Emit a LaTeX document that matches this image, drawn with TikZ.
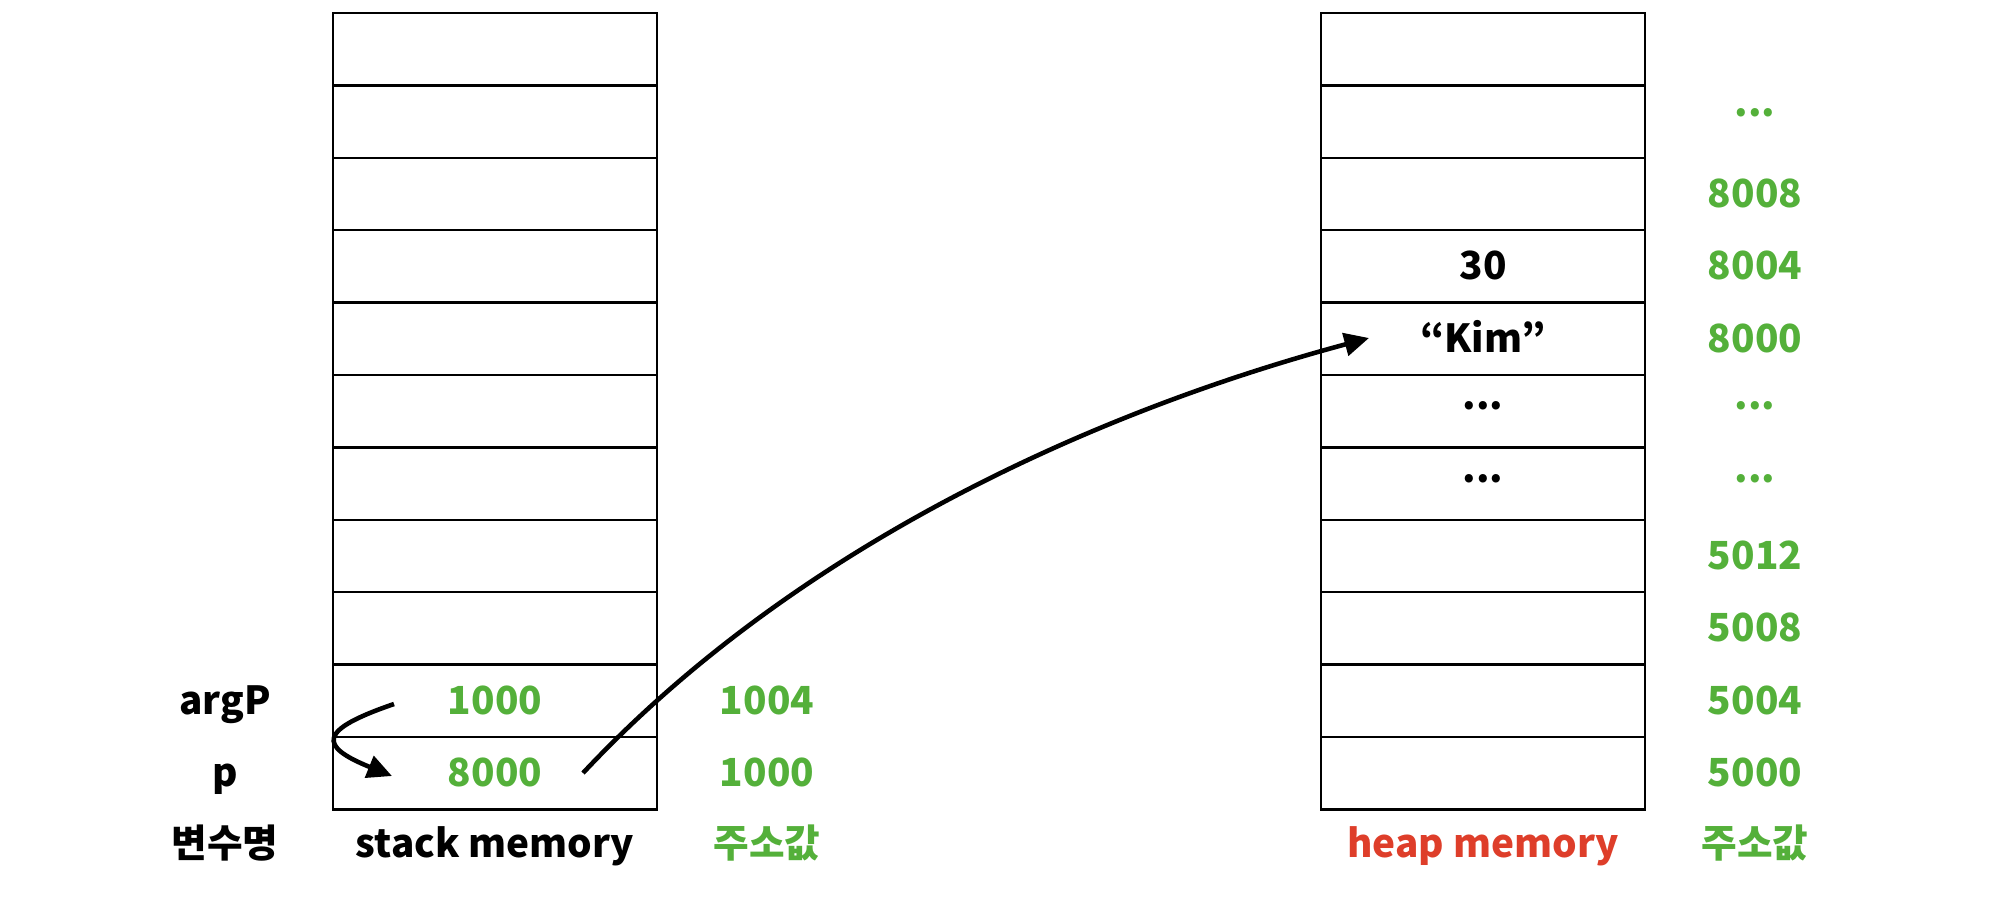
\documentclass[tikz,border=0pt]{standalone}
\usepackage{fontspec}
\setmainfont{Noto Sans CJK KR}
\usetikzlibrary{arrows.meta}
\definecolor{addrgreen}{RGB}{84,176,58}
\definecolor{heapred}{RGB}{222,62,42}

\begin{document}
\begin{tikzpicture}[x=0.01cm,y=-0.01cm,font=\fontsize{11}{13}\selectfont\bfseries,
  cell/.style={draw=black,line width=0.7pt,minimum width=3.24cm,minimum height=0.724cm,inner sep=0pt},
  lbl/.style={anchor=base,inner sep=0pt},
  addr/.style={lbl,text=addrgreen},
  dots/.style={inner sep=0pt},
  ptr/.style={-{Triangle[length=7pt,width=6.5pt]},line width=1.3pt}]
\useasboundingbox (0,0) rectangle (2000,908);
% memory cells
\foreach \i in {0,...,10} {
  \node[cell] (s\i) at (495,{49.2+72.4*\i}) {};
  \node[cell] (h\i) at (1483,{49.2+72.4*\i}) {};
}
% stack
\node[lbl] (argP) at (225,714.3) {argP};
\node[lbl] (p) at (225,786.7) {p};
\node[addr] (argPval) at (495,714.3) {1000};
\node[addr] (pval) at (495,786.7) {8000};
\node[addr] (sa9) at (767,714.3) {1004};
\node[addr] (sa10) at (767,786.7) {1000};
% heap
\node[lbl] (age) at (1483,279.9) {30};
\node[lbl] (name) at (1483,352.3) {“Kim”};
\node[dots,text=addrgreen] (ha1) at (1755,113) {...};
\foreach \r/\t in {2/8008,3/8004,4/8000,7/5012,8/5008,9/5004,10/5000}
  \node[addr] (ha\r) at (1755,{62.7+72.4*\r}) {\t};
\foreach \r in {5,6} {
  \node[dots] (hd\r) at (1483,{44.2+72.4*\r}) {...};
  \node[dots,text=addrgreen] (ha\r) at (1755,{44.2+72.4*\r}) {...};
}
% captions
\node[lbl] (varname) at (225,857) {변수명};
\node[lbl] (stacklbl) at (495,857) {stack memory};
\node[addr] (stackaddr) at (767,857) {주소값};
\node[lbl,text=heapred] (heaplbl) at (1483,857) {heap memory};
\node[addr] (heapaddr) at (1755,857) {주소값};
% pointers
\coordinate (pfrom) at (583,773);
\coordinate (kimto) at (1369,338);
\coordinate (argfrom) at (394,704);
\coordinate (argto) at (392,776);
\draw[ptr] (pfrom) .. controls (788,554) and (1079,416) .. (kimto);
\draw[ptr] (argfrom) .. controls (318,730) and (318,746) .. (argto);
\end{tikzpicture}
\end{document}
